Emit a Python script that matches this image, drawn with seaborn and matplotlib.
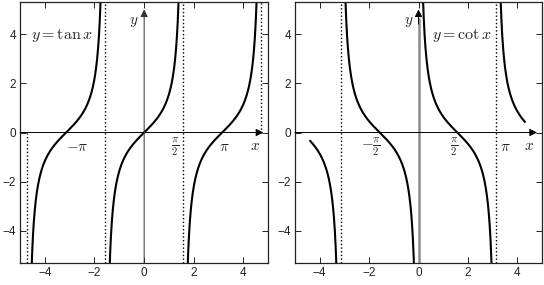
import numpy as np
import pandas as pd
import matplotlib.pyplot as plt
import seaborn as sns

# --- datos: ramas, asíntotas y rótulos ---
tan_branches = [(-3 * np.pi / 2, -np.pi / 2), (-np.pi / 2, np.pi / 2), (np.pi / 2, 3 * np.pi / 2)]
cot_branches = [(-4.39, -np.pi), (-np.pi, 0.0), (0.0, np.pi), (np.pi, 4.31)]

tan_asymptotes = [-np.pi / 2, np.pi / 2]            # líneas completas
tan_half_asymptotes = [(-3 * np.pi / 2, 'low'), (3 * np.pi / 2, 'high')]
cot_asymptotes = [-np.pi, np.pi]

tan_marks = [(-2.71, r'$-\pi$'), (1.25, r'$\frac{\pi}{2}$'), (3.25, r'$\pi$')]
cot_marks = [(-1.91, r'$-\frac{\pi}{2}$'), (1.43, r'$\frac{\pi}{2}$'), (3.51, r'$\pi$')]

ticks = [-4, -2, 0, 2, 4]
tick_labels = ['\u22124', '\u22122', '0', '2', '4']
XLIM = (-5, 5)
YLIM = (-5.3, 5.3)


def make_curve(branches, func):
    rows = []
    for i, (a, b) in enumerate(branches):
        x = np.linspace(a, b, 800)[1:-1]
        y = func(x)
        keep = np.abs(y) < 6
        rows.append(pd.DataFrame({'x': x[keep], 'y': y[keep], 'rama': i}))
    return pd.concat(rows, ignore_index=True)


df_tan = make_curve(tan_branches, np.tan)
df_cot = make_curve(cot_branches, lambda x: 1 / np.tan(x))

sns.set_theme(style="ticks")
plt.rcParams['font.family'] = ['Liberation Sans', 'DejaVu Sans']
plt.rcParams['mathtext.fontset'] = 'cm'

fig = plt.figure(figsize=(5.44, 2.85), dpi=100)
ax1 = fig.add_axes([20 / 544, 22 / 285, 248.3 / 544, 261 / 285])
ax2 = fig.add_axes([295 / 544, 22 / 285, 247 / 544, 261 / 285])


def style_axes(ax):
    ax.set_xlim(*XLIM)
    ax.set_ylim(*YLIM)
    ax.set_xticks(ticks)
    ax.set_xticklabels(tick_labels)
    ax.set_yticks(ticks)
    ax.set_yticklabels(tick_labels)
    ax.tick_params(direction='in', length=4, width=0.7, top=True, right=True,
                   labelsize=8.5, pad=3, colors='#222222')
    for s in ax.spines.values():
        s.set_visible(True)
        s.set_linewidth(0.9)
        s.set_color('#222222')
    ax.set_xlabel('')
    ax.set_ylabel('')
    # eje x con flecha
    ax.annotate('', xy=(4.8, 0), xytext=(-5, 0),
                arrowprops=dict(arrowstyle='-|>', color='black', lw=0.7,
                                mutation_scale=11, shrinkA=0, shrinkB=0))
    ax.text(4.47, -0.55, r'$x$', fontsize=11, ha='center', va='center')
    ax.text(-0.4, 4.47, r'$y$', fontsize=11, ha='center', va='center')


# --- panel tan ---
sns.lineplot(data=df_tan, x='x', y='y', units='rama', estimator=None,
             color='black', lw=1.5, ax=ax1, sort=False)
style_axes(ax1)
for a in tan_asymptotes:
    ax1.axvline(a, ls=':', color='black', lw=1.0)
for a, part in tan_half_asymptotes:
    if part == 'low':
        ax1.plot([a, a], [YLIM[0], 0], ls=':', color='black', lw=1.0)
    else:
        ax1.plot([a, a], [0, YLIM[1]], ls=':', color='black', lw=1.0)
ax1.annotate('', xy=(0, 5.0), xytext=(0, -5.3),
             arrowprops=dict(arrowstyle='-|>', color='#333333', lw=0.7,
                             mutation_scale=11, shrinkA=0, shrinkB=0))
for xv, lab in tan_marks:
    ax1.text(xv, -0.6, lab, fontsize=11, ha='center', va='center')
ax1.text(-4.55, 3.94, r'$y = \tan x$', fontsize=11.5, ha='left', va='center')

# --- panel cot ---
sns.lineplot(data=df_cot, x='x', y='y', units='rama', estimator=None,
             color='black', lw=1.5, ax=ax2, sort=False)
style_axes(ax2)
for a in cot_asymptotes:
    ax2.axvline(a, ls=':', color='black', lw=1.0)
ax2.plot([0, 0], [-5.3, 4.6], color='#8a8a8a', lw=1.8)
ax2.annotate('', xy=(0, 5.0), xytext=(0, 4.4),
             arrowprops=dict(arrowstyle='-|>', color='black', lw=0.7,
                             mutation_scale=11, shrinkA=0, shrinkB=0))
for xv, lab in cot_marks:
    ax2.text(xv, -0.6, lab, fontsize=11, ha='center', va='center')
ax2.text(1.76, 3.94, r'$y = \cot x$', fontsize=11.5, ha='center', va='center')

plt.savefig('out.png', dpi=100)
plt.close()
